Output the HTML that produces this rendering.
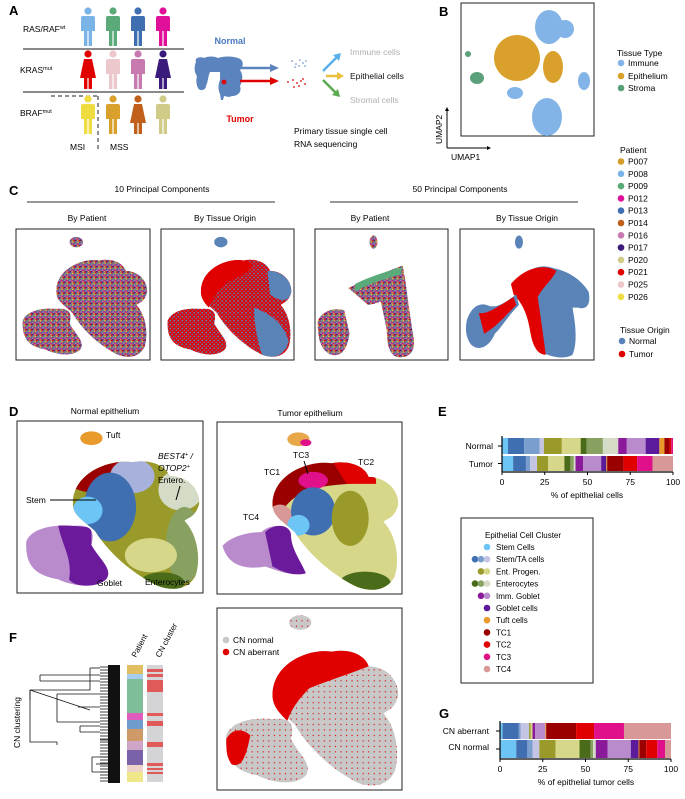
<!DOCTYPE html>
<html><head><meta charset="utf-8"><style>
html,body{margin:0;padding:0;background:#fff}
svg text{font-family:"Liberation Sans",Arial,sans-serif}
</style></head><body>
<svg id="fig" width="685" height="794" viewBox="0 0 685 794" xmlns="http://www.w3.org/2000/svg">
<defs>
<pattern id="mix" width="4" height="4" patternUnits="userSpaceOnUse">
<rect width="4" height="4" fill="#8a5c8a"/>
<circle cx="0.5" cy="0.5" r="0.6" fill="#3a1a7a"/><circle cx="2" cy="0.5" r="0.6" fill="#d4a02a"/><circle cx="3.5" cy="1" r="0.6" fill="#e00000"/>
<circle cx="1" cy="2" r="0.6" fill="#5aaa7a"/><circle cx="2.5" cy="2" r="0.6" fill="#eedc40"/><circle cx="3.5" cy="3" r="0.6" fill="#3f6fb0"/>
<circle cx="0.5" cy="3.5" r="0.6" fill="#c87ab0"/><circle cx="2" cy="3.5" r="0.6" fill="#e0109a"/><circle cx="3" cy="2" r="0.4" fill="#c0601a"/>
</pattern>
<pattern id="origin" width="3" height="3" patternUnits="userSpaceOnUse">
<rect width="3" height="3" fill="#e00000"/><circle cx="1" cy="1" r="0.7" fill="#5a84b8"/><circle cx="2.5" cy="2.5" r="0.55" fill="#5a84b8"/>
</pattern>
<pattern id="cnmix" width="3" height="3" patternUnits="userSpaceOnUse">
<rect width="3" height="3" fill="#c8c8c8"/><circle cx="1" cy="1" r="0.35" fill="#e00000"/>
</pattern>
<clipPath id="mainClip"><path d="M30 48 C30 30 50 22 62 24 C72 22 80 26 82 32 C90 32 98 38 98 48 C96 56 92 56 90 58 C97 66 99 80 96 90 C92 98 84 99 76 96 C64 90 50 78 42 64 C36 58 30 55 30 48 Z"/></clipPath>
<clipPath id="gobClip"><path d="M5 70 C8 62 20 60 30 61 C40 60 42 64 40 72 C44 80 52 86 48 92 C42 98 30 96 22 92 C12 90 4 86 5 70 Z"/></clipPath>
</defs>

<!-- Panel A -->
<g id="panelA">
<text x="9" y="15" font-size="13" font-weight="bold">A</text>
<text x="23" y="32" font-size="8.5">RAS/RAF<tspan font-size="5.5" dy="-3">wt</tspan></text>
<text x="20" y="73" font-size="8.5">KRAS<tspan font-size="5.5" dy="-3">mut</tspan></text>
<text x="20" y="116" font-size="8.5">BRAF<tspan font-size="5.5" dy="-3">mut</tspan></text>
<line x1="23" y1="49" x2="184" y2="49" stroke="#444" stroke-width="1.2"/>
<line x1="23" y1="92" x2="184" y2="92" stroke="#444" stroke-width="1.2"/>
<line x1="51" y1="96" x2="98" y2="96" stroke="#222" stroke-dasharray="4,3"/>
<line x1="98" y1="96" x2="98" y2="150" stroke="#222" stroke-dasharray="4,3"/>
<text x="70" y="150" font-size="8.5">MSI</text>
<text x="110" y="150" font-size="8.5">MSS</text>
<g id="people"></g>
<path d="M196 62 C194 58 200 56 204 58 C208 56 214 56 218 58 C224 56 232 56 238 58 C244 60 244 66 240 70 C244 76 242 82 240 86 C242 92 238 96 232 96 C228 98 226 96 224 96 L223 100 L221 100 L220 94 C218 90 218 84 220 80 L220 72 L210 72 C208 76 208 82 206 86 C206 90 200 92 198 88 C196 84 196 80 197 76 C194 72 194 66 196 62 Z" fill="#5b84be"/>
<circle cx="224" cy="82" r="2.4" fill="#e00000"/>
<text x="230" y="44" font-size="9" font-weight="bold" fill="#4a79c0" text-anchor="middle">Normal</text>
<text x="240" y="122" font-size="9" font-weight="bold" fill="#e00000" text-anchor="middle">Tumor</text>
<line x1="240" y1="68" x2="272" y2="68" stroke="#5b84be" stroke-width="2.5"/><path d="M270 64 L279 68 L270 72 Z" fill="#5b84be"/>
<line x1="240" y1="81" x2="272" y2="81" stroke="#e00000" stroke-width="2.5"/><path d="M270 77 L279 81 L270 85 Z" fill="#e00000"/>
<g fill="#5b84be"><circle cx="292" cy="61" r=".8"/><circle cx="296" cy="64" r=".8"/><circle cx="300" cy="60" r=".8"/><circle cx="303" cy="63" r=".8"/><circle cx="306" cy="61" r=".8"/><circle cx="299" cy="66" r=".8"/><circle cx="295" cy="67" r=".8"/><circle cx="305" cy="66" r=".8"/></g>
<g fill="#e00000"><circle cx="288" cy="82" r=".9"/><circle cx="293" cy="80" r=".9"/><circle cx="297" cy="83" r=".9"/><circle cx="301" cy="81" r=".9"/><circle cx="305" cy="84" r=".9"/><circle cx="299" cy="86" r=".9"/><circle cx="294" cy="87" r=".9"/><circle cx="303" cy="79" r=".9"/></g>
<line x1="323" y1="71" x2="337" y2="57" stroke="#5ab0ea" stroke-width="2.5"/><path d="M333 55 L341 53 L339 61 Z" fill="#5ab0ea"/>
<line x1="326" y1="76" x2="338" y2="76" stroke="#e8c040" stroke-width="2.5"/><path d="M337 72 L344 76 L337 80 Z" fill="#e8c040"/>
<line x1="323" y1="80" x2="336" y2="93" stroke="#5aaa50" stroke-width="2.5"/><path d="M332 95 L340 97 L338 89 Z" fill="#5aaa50"/>
<text x="350" y="55" font-size="8.5" fill="#b0b0b0">Immune cells</text>
<text x="350" y="79" font-size="8.5" fill="#111">Epithelial cells</text>
<text x="350" y="103" font-size="8.5" fill="#b0b0b0">Stromal cells</text>
<text x="294" y="134" font-size="8.5">Primary tissue single cell</text>
<text x="294" y="147" font-size="8.5">RNA sequencing</text>
</g>

<!-- Panel B -->
<g>
<text x="439" y="16" font-size="13" font-weight="bold">B</text>
<rect x="461" y="3" width="133" height="133" fill="#fff" stroke="#222" stroke-width="1"/>
<ellipse cx="517" cy="58" rx="23" ry="23" fill="#d9a12c"/>
<ellipse cx="553" cy="67" rx="10" ry="16" fill="#d9a12c"/>
<ellipse cx="549" cy="27" rx="14" ry="17" fill="#82b4e8"/><ellipse cx="565" cy="29" rx="9" ry="9" fill="#82b4e8"/>
<ellipse cx="477" cy="78" rx="7" ry="6" fill="#5aa07a"/><circle cx="468" cy="54" r="3" fill="#5aa07a"/>
<ellipse cx="547" cy="117" rx="15" ry="19" fill="#82b4e8"/>
<ellipse cx="584" cy="81" rx="6" ry="9" fill="#82b4e8"/>
<ellipse cx="515" cy="93" rx="8" ry="6" fill="#82b4e8"/>
<line x1="447" y1="110" x2="447" y2="148" stroke="#000"/><path d="M445 111 L447 107 L449 111 Z"/>
<line x1="447" y1="148" x2="488" y2="148" stroke="#000"/><path d="M487 146 L491 148 L487 150 Z"/>
<text transform="translate(442,144) rotate(-90)" font-size="8.5">UMAP2</text>
<text x="451" y="160" font-size="8.5">UMAP1</text>
<text x="617" y="56" font-size="8.5">Tissue Type</text>
<circle cx="621" cy="63" r="3.3" fill="#82b4e8"/><text x="628" y="66" font-size="8.5">Immune</text>
<circle cx="621" cy="76" r="3.3" fill="#d9a12c"/><text x="628" y="79" font-size="8.5">Epithelium</text>
<circle cx="621" cy="88" r="3.3" fill="#5aa07a"/><text x="628" y="91" font-size="8.5">Stroma</text>
<text x="620" y="153" font-size="8.5">Patient</text>
<g id="patLegend"></g>
<text x="620" y="333" font-size="8.5">Tissue Origin</text>
<circle cx="622" cy="341" r="3.3" fill="#5a84b8"/><text x="629" y="344" font-size="8.5">Normal</text>
<circle cx="622" cy="354" r="3.3" fill="#e00000"/><text x="629" y="357" font-size="8.5">Tumor</text>
</g>

<!-- Panel C -->
<g>
<text x="9" y="195" font-size="13" font-weight="bold">C</text>
<text x="162" y="192" font-size="8.5" text-anchor="middle">10 Principal Components</text>
<line x1="27" y1="202" x2="275" y2="202" stroke="#333"/>
<text x="460" y="192" font-size="8.5" text-anchor="middle">50 Principal Components</text>
<line x1="330" y1="202" x2="578" y2="202" stroke="#333"/>
<text x="87" y="221" font-size="8.5" text-anchor="middle">By Patient</text>
<text x="225" y="221" font-size="8.5" text-anchor="middle">By Tissue Origin</text>
<text x="370" y="221" font-size="8.5" text-anchor="middle">By Patient</text>
<text x="527" y="221" font-size="8.5" text-anchor="middle">By Tissue Origin</text>
<g>
<rect x="16" y="229" width="134" height="131" fill="#fff" stroke="#222"/>
<svg x="16" y="229" width="134" height="131" viewBox="0 0 100 100" preserveAspectRatio="none">
<rect x="0" y="0" width="100" height="100" fill="url(#mix)" clip-path="url(#mainClip)"/>
<rect x="0" y="0" width="100" height="100" fill="url(#mix)" clip-path="url(#gobClip)"/>
<ellipse cx="45" cy="10" rx="5" ry="4" fill="url(#mix)"/></svg></g>
<g>
<rect x="161" y="229" width="133" height="131" fill="#fff" stroke="#222"/>
<svg x="161" y="229" width="133" height="131" viewBox="0 0 100 100" preserveAspectRatio="none">
<rect x="0" y="0" width="100" height="100" fill="url(#origin)" clip-path="url(#mainClip)"/>
<rect x="0" y="0" width="100" height="100" fill="url(#origin)" clip-path="url(#gobClip)"/>
<path d="M30 48 C30 30 50 22 62 24 C70 24 72 30 60 36 C48 40 40 50 36 60 C32 56 30 52 30 48Z" fill="#e00000"/>
<path d="M80 32 C90 32 98 38 98 48 C96 56 90 56 82 50Z" fill="#5a84b8"/>
<path d="M70 60 C80 64 92 70 96 86 C92 98 84 99 76 96 C72 84 70 72 70 60Z" fill="#5a84b8"/>
<ellipse cx="45" cy="10" rx="5" ry="4" fill="#5a84b8"/></svg></g>
<g>
<rect x="315" y="229" width="133" height="131" fill="#fff" stroke="#222"/>
<svg x="315" y="229" width="133" height="131" viewBox="0 0 100 100" preserveAspectRatio="none">
<path d="M25 45 C40 38 55 32 66 28 L68 40 C62 50 52 56 40 58Z" fill="url(#mix)"/>
<path d="M30 42 C42 36 55 32 66 29 L64 35 C52 38 40 42 30 48Z" fill="#5aaa7a"/>
<path d="M48 50 L68 40 C70 55 72 70 74 82 C76 92 72 98 64 98 C56 98 54 88 54 78 C52 66 50 58 48 50Z" fill="url(#mix)"/>
<path d="M2 70 C6 62 14 60 22 62 L26 80 C24 92 20 98 12 96 C4 92 2 84 2 70Z" fill="url(#mix)"/>
<ellipse cx="44" cy="10" rx="3" ry="5" fill="url(#mix)"/></svg></g>
<g>
<rect x="460" y="229" width="134" height="131" fill="#fff" stroke="#222"/>
<svg x="460" y="229" width="134" height="131" viewBox="0 0 100 100" preserveAspectRatio="none">
<path d="M40 45 C48 30 60 26 70 30 C80 32 90 38 96 48 C98 58 94 62 88 60 L84 60 C86 72 88 86 84 96 C78 100 66 98 58 92 C54 80 52 68 48 58 Z" fill="#5a84b8"/>
<path d="M38 42 C48 30 62 26 72 32 C68 40 62 44 58 52 C60 66 62 80 64 96 C58 96 54 90 52 76 C50 64 46 56 40 50Z" fill="#e00000"/>
<path d="M5 70 C8 60 14 56 20 58 C28 62 36 54 42 50 L44 58 C36 66 32 74 26 80 C22 90 14 94 8 88 C4 82 4 76 5 70Z" fill="#5a84b8"/>
<path d="M14 64 C20 66 30 58 40 52 L42 58 C34 66 28 74 18 80Z" fill="#e00000"/>
<ellipse cx="44" cy="10" rx="3" ry="5" fill="#5a84b8"/></svg></g>
</g>

<!-- Panel D -->
<g>
<text x="9" y="416" font-size="13" font-weight="bold">D</text>
<text x="105" y="414" font-size="8.5" text-anchor="middle">Normal epithelium</text>
<text x="310" y="416" font-size="8.5" text-anchor="middle">Tumor epithelium</text>
<g>
<rect x="17" y="421" width="186" height="172" fill="#fff" stroke="#222"/>
<svg x="17" y="421" width="186" height="172" viewBox="0 0 100 100" preserveAspectRatio="none">
<g clip-path="url(#mainClip)">
<rect width="100" height="100" fill="#9a9a2a"/>
<ellipse cx="45" cy="32" rx="20" ry="10" fill="#9a0000"/>
<ellipse cx="62" cy="32" rx="12" ry="10" fill="#a8b0dc"/>
<ellipse cx="50" cy="50" rx="14" ry="20" fill="#3f6fb0"/>
<ellipse cx="38" cy="52" rx="8" ry="8" fill="#6cc5f5"/>
<ellipse cx="88" cy="40" rx="12" ry="12" fill="#d4dcc8"/>
<ellipse cx="90" cy="72" rx="10" ry="22" fill="#88a060"/>
<ellipse cx="72" cy="78" rx="14" ry="10" fill="#d7d78a"/>
<ellipse cx="78" cy="94" rx="12" ry="6" fill="#4a6b1a"/>
</g>
<g clip-path="url(#gobClip)"><rect width="100" height="100" fill="#b98acc"/><path d="M22 60 L40 62 L40 72 C44 80 52 86 48 92 C42 98 30 96 28 92 C30 80 24 72 22 60Z" fill="#6a1a9a"/></g>
<ellipse cx="40" cy="10" rx="6" ry="4" fill="#e89a2a"/>
</svg>
<text x="106" y="438" font-size="8.5">Tuft</text>
<text x="158" y="459" font-size="8.5" font-style="italic">BEST4<tspan font-size="5.5" dy="-3">+</tspan><tspan dy="3"> /</tspan></text>
<text x="158" y="471" font-size="8.5" font-style="italic">OTOP2<tspan font-size="5.5" dy="-3">+</tspan></text>
<text x="158" y="483" font-size="8.5">Entero.</text>
<line x1="180" y1="486" x2="176" y2="500" stroke="#000"/>
<text x="26" y="503" font-size="8.5">Stem</text>
<line x1="50" y1="500" x2="96" y2="500" stroke="#000"/>
<text x="97" y="586" font-size="8.5">Goblet</text>
<text x="145" y="585" font-size="8.5">Enterocytes</text>
</g>
<g>
<rect x="217" y="422" width="185" height="172" fill="#fff" stroke="#222"/>
<svg x="217" y="422" width="185" height="172" viewBox="0 0 100 100" preserveAspectRatio="none">
<g clip-path="url(#mainClip)">
<rect width="100" height="100" fill="#d7d78a"/>
<path d="M28 48 C30 30 48 20 62 22 C74 20 84 24 86 34 C76 36 64 36 55 38 C45 40 38 46 34 54Z" fill="#9a0000"/>
<path d="M62 22 C74 20 86 24 86 36 L70 36Z" fill="#e00000"/>
<ellipse cx="52" cy="34" rx="8" ry="5" fill="#e0108a"/>
<ellipse cx="34" cy="58" rx="8" ry="10" fill="#d89898"/>
<ellipse cx="52" cy="52" rx="12" ry="14" fill="#3f6fb0"/>
<ellipse cx="44" cy="60" rx="6" ry="6" fill="#6cc5f5"/>
<ellipse cx="72" cy="56" rx="10" ry="16" fill="#9a9a2a"/>
<ellipse cx="80" cy="94" rx="14" ry="7" fill="#4a6b1a"/>
</g>
<path d="M3 72 C8 66 18 64 24 64 C30 58 40 60 40 66 C40 74 46 82 48 88 C40 90 32 86 26 84 C16 86 6 84 3 72Z" fill="#b98acc"/>
<path d="M26 64 C32 58 40 60 40 66 C40 74 46 82 48 88 C40 90 34 86 30 84Z" fill="#6a1a9a"/>
<ellipse cx="44" cy="10" rx="6" ry="4" fill="#e8a84a"/><ellipse cx="48" cy="12" rx="3" ry="2" fill="#e0108a"/>
</svg>
<text x="293" y="458" font-size="8.5">TC3</text>
<text x="358" y="465" font-size="8.5">TC2</text>
<text x="264" y="475" font-size="8.5">TC1</text>
<text x="243" y="520" font-size="8.5">TC4</text>
<line x1="304" y1="461" x2="308" y2="474" stroke="#000"/>
</g>
</g>

<!-- Panel E -->
<g id="panelE">
<text x="438" y="416" font-size="13" font-weight="bold">E</text>
<text x="493" y="449" font-size="8.5" text-anchor="end">Normal</text>
<text x="493" y="467" font-size="8.5" text-anchor="end">Tumor</text>
<text x="587" y="498" font-size="8.5" text-anchor="middle">% of epithelial cells</text>
</g>
<g>
<rect x="461" y="518" width="132" height="165" fill="#fff" stroke="#222"/>
<text x="485" y="538" font-size="8">Epithelial Cell Cluster</text>
<g id="clLegend"></g>
</g>

<!-- Panel F -->
<g>
<text x="9" y="642" font-size="13" font-weight="bold">F</text>
<text transform="translate(20,748) rotate(-90)" font-size="8.5">CN clustering</text>
<g id="dendro" stroke="#111" stroke-width="0.8" fill="none"></g>
<g id="annot"></g>
<text transform="translate(136,658) rotate(-62)" font-size="8">Patient</text>
<text transform="translate(160,658) rotate(-62)" font-size="8">CN cluster</text>
<g>
<rect x="217" y="608" width="185" height="182" fill="#fff" stroke="#222"/>
<svg x="217" y="608" width="185" height="182" viewBox="0 0 100 100" preserveAspectRatio="none">
<rect width="100" height="100" fill="url(#cnmix)" clip-path="url(#mainClip)"/>
<path d="M30 48 C30 30 50 22 62 24 C72 22 80 26 82 32 C72 36 60 40 50 44 C44 50 40 56 38 62 C34 58 30 54 30 48Z" fill="#e00000"/>
<rect width="100" height="100" fill="url(#cnmix)" clip-path="url(#gobClip)"/>
<path d="M5 72 C8 66 14 66 18 70 C16 80 14 88 8 86 C5 82 5 78 5 72Z" fill="#e00000"/>
<ellipse cx="45" cy="8" rx="6" ry="4" fill="url(#cnmix)"/>
</svg>
<circle cx="226" cy="640" r="3.3" fill="#c8c8c8"/><text x="233" y="643" font-size="8.5">CN normal</text>
<circle cx="226" cy="652" r="3.3" fill="#e00000"/><text x="233" y="655" font-size="8.5">CN aberrant</text>
</g>
</g>

<!-- Panel G -->
<g id="panelG">
<text x="439" y="718" font-size="13" font-weight="bold">G</text>
<text x="489" y="734" font-size="8.5" text-anchor="end">CN aberrant</text>
<text x="489" y="750" font-size="8.5" text-anchor="end">CN normal</text>
<text x="586" y="785" font-size="8.5" text-anchor="middle">% of epithelial tumor cells</text>
</g>
</svg>
<script>
// ---- chart data ----
const clusterNames = ["stem","stemTA1","stemTA2","stemTA3","entProg1","entProg2","entero1","entero2","entero3","immGob1","immGob2","goblet","tuft","TC1","TC2","TC3","TC4"];
const clusterColors = ["#6cc5f5","#3f6fb0","#7a9fcf","#c4c4e4","#9a9a2a","#d7d78a","#4a6b1a","#88a060","#d4dcc8","#8b1a9a","#b98acc","#5a1a9a","#e89a2a","#9a0000","#e00000","#e0108a","#d89898"];
const eNormal = [3.5,9.5,9,2.5,10.5,11,3.5,9.5,9,5,11,8,3,3,1,1,0];
const eTumor = [6.5,7.5,2.5,4,6.5,9.5,3.5,2,1,4.5,10.5,3,0.5,9.5,8,9,12];
const gAberrant = [1.5,9.5,1,5,1,1,0,0,0,1.5,6,0,0.5,17.5,10.5,17.5,27.5];
const gNormal = [9.5,6.5,3,4,9.5,14,6.5,1.5,1.5,7,13.5,4.5,0.5,4,6.5,4.5,3.5];
const xTicks = [0,25,50,75,100];
const patients = ["P007","P008","P009","P012","P013","P014","P016","P017","P020","P021","P025","P026"];
const patientColors = ["#d4a02a","#7ab4e6","#5aaa7a","#e0109a","#3f6fb0","#c0601a","#c87ab0","#3a1a7a","#d0cc88","#e00000","#ecc8cc","#eedc40"];
const legendLabels = ["Stem Cells","Stem/TA cells","Ent. Progen.","Enterocytes","Imm. Goblet","Goblet cells","Tuft cells","TC1","TC2","TC3","TC4"];
const legendDots = [[0],[1,2,3],[4,5],[6,7,8],[9,10],[11],[12],[13],[14],[15],[16]];

const NS = "http://www.w3.org/2000/svg";
function mk(tag, attrs, parent){const e=document.createElementNS(NS,tag);for(const k in attrs)e.setAttribute(k,attrs[k]);parent.appendChild(e);return e;}

function stackedChart(parent, x0, x1, rows, yTops, hts, axisY, prefix){
  const sx = v => x0 + (x1-x0)*v/100;
  rows.forEach((vals,ri)=>{
    let acc=0;
    vals.forEach((v,i)=>{
      if(v<=0){return;}
      const r = mk("rect",{x:sx(acc),y:yTops[ri],width:sx(acc+v)-sx(acc),height:hts[ri],fill:clusterColors[i]},parent);
      
      
      acc+=v;
    });
    mk("line",{x1:x0-4,x2:x0,y1:yTops[ri]+hts[ri]/2,y2:yTops[ri]+hts[ri]/2,stroke:"#000"},parent);
  });
  mk("line",{x1:x0,x2:x0,y1:yTops[0]-2,y2:axisY,stroke:"#000","stroke-width":1.2},parent);
  mk("line",{x1:x0,x2:x1,y1:axisY,y2:axisY,stroke:"#000","stroke-width":1.2},parent);
  xTicks.forEach(t=>{
    mk("line",{x1:sx(t),x2:sx(t),y1:axisY,y2:axisY+3,stroke:"#000"},parent);
    const tx=mk("text",{x:sx(t),y:axisY+13,"font-size":"8.5","text-anchor":"middle"},parent);
    tx.textContent=t;
    
    
  });
}
stackedChart(document.getElementById("panelE"),502,673,[eNormal,eTumor],[438,456],[16,15],472,"e-bar");
stackedChart(document.getElementById("panelG"),500,671,[gAberrant,gNormal],[723,740],[16,18],759,"g-bar");

// patient legend
const pl=document.getElementById("patLegend");
patients.forEach((p,i)=>{
  const y=161.5+i*12.3;
  mk("circle",{cx:621,cy:y,r:3.3,fill:patientColors[i]},pl);
  const t=mk("text",{x:628,y:y+3,"font-size":"8.5"},pl);t.textContent=p;
  
  
});
// cluster legend
const cl=document.getElementById("clLegend");
legendLabels.forEach((lab,i)=>{
  const y=547+i*12.2;
  const d=legendDots[i];
  d.forEach((ci,j)=>{mk("circle",{cx:487-(d.length-1-j)*6,cy:y,r:3.3,fill:clusterColors[ci]},cl);});
  const t=mk("text",{x:496,y:y+3,"font-size":"8"},cl);t.textContent=lab;
  
  
});
// people icons
const pp=document.getElementById("people");
const peopleRows=[[11,["#7ab4e6","#5aaa7a","#3f6fb0","#e0109a"],[0,0,0,0]],[54,["#e00000","#ecc8cc","#c87ab0","#3a1a7a"],[1,0,0,1]],[99,["#eedc40","#d9a12c","#c0601a","#d0cc88"],[0,0,1,0]]];
const pxs=[88,113,138,163];
peopleRows.forEach(r=>{
  pxs.forEach((cx,i)=>{
    const c=r[1][i], y=r[0], f=r[2][i];
    mk("circle",{cx:cx,cy:y,r:3.6,fill:c},pp);
    if(f){
      mk("path",{d:`M${cx-4} ${y+5} L${cx+4} ${y+5} L${cx+8} ${y+24} L${cx-8} ${y+24} Z`,fill:c},pp);
    } else {
      mk("path",{d:`M${cx-7} ${y+7} Q${cx-7} ${y+5} ${cx-5} ${y+5} L${cx+5} ${y+5} Q${cx+7} ${y+5} ${cx+7} ${y+7} L${cx+7} ${y+20} L${cx-7} ${y+20} Z`,fill:c},pp);
    }
    mk("rect",{x:cx-4,y:y+18,width:3.4,height:17,fill:c},pp);
    mk("rect",{x:cx+0.6,y:y+18,width:3.4,height:17,fill:c},pp);
  });
});
// dendrogram (decorative)
const dg=document.getElementById("dendro");
const segs=[[30,690,90,690,90,668],[30,690,90,710,90,710],[90,668,100,668,100,668],[57,694,100,694,100,694],[57,722,100,722,100,722],[57,694,57,722,57,722],[78,707,100,707,100,707],[40,675,100,675,100,675],[40,675,40,681,40,681],[40,681,100,681,100,681],[80,726,100,726,100,726],[80,726,80,732,80,732],[80,732,100,732,100,732],[100,740,118,740,118,740],[92,757,110,757,110,757],[92,757,92,772,92,772],[92,772,112,772,112,772],[96,764,112,764,112,764]];
segs.forEach(s=>{mk("polyline",{points:`${s[0]},${s[1]} ${s[2]},${s[3]} ${s[4]},${s[5]}`},dg);});
mk("polyline",{points:"30,690 30,742 57,742"},dg);
mk("polyline",{points:"57,742 57,745"},dg);
mk("rect",{x:108,y:665,width:12,height:118,fill:"#111",stroke:"none"},dg);
for(let y=667;y<782;y+=3){mk("line",{x1:100,x2:110,y1:y,y2:y},dg);}
mk("polyline",{points:"30,690 30,700"},dg);
// annotation bars
const an=document.getElementById("annot");
const patBlocks=[[665,674,"#e2be62"],[674,679,"#a6cdee"],[679,713,"#7ebf9a"],[713,720,"#e05cbc"],[720,729,"#6e9ccc"],[729,741,"#d09a68"],[741,750,"#d0a6c8"],[750,765,"#7a62a8"],[765,772,"#eed4c8"],[772,782,"#f0e888"]];
patBlocks.forEach(b=>mk("rect",{x:127,y:b[0],width:16,height:b[1]-b[0],fill:b[2]},an));
mk("rect",{x:147,y:665,width:16,height:117,fill:"#d4d4d6"},an);
[[669,672],[674,677],[680,692],[713,716],[721,726],[742,747],[763,766],[768,770],[772,774]].forEach(b=>mk("rect",{x:147,y:b[0],width:16,height:b[1]-b[0],fill:"#e05a5a"},an));
</script>
</body></html>
